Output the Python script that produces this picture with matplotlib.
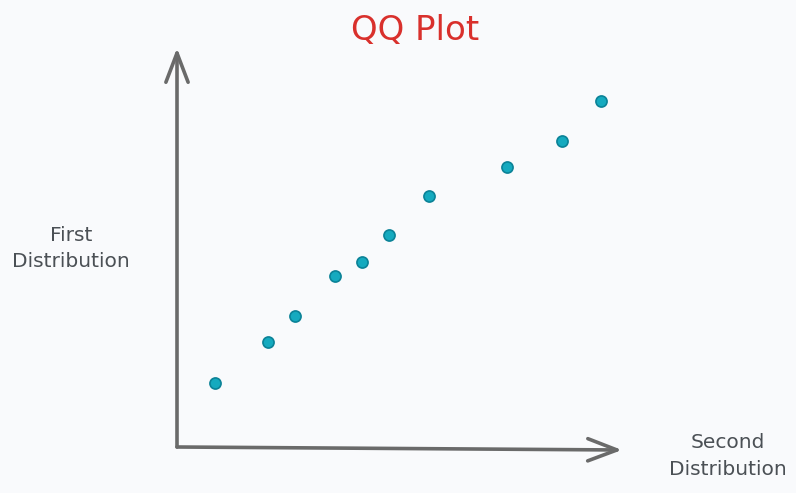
import matplotlib
matplotlib.use('Agg')
import matplotlib.pyplot as plt

# quantiles of the two distributions
second_q = [0.95, 2.28, 2.96, 3.96, 4.63, 5.30, 6.31, 8.25, 9.63, 10.60]
first_q = [1.61, 2.63, 3.27, 4.28, 4.63, 5.29, 6.28, 6.99, 7.64, 8.66]

title = 'QQ Plot'
y_label = ['First', 'Distribution']
x_label = ['Second', 'Distribution']

bg = '#f9fafc'
axis_col = '#6a6a6a'
text_col = '#4b5055'

fig = plt.figure(figsize=(7.96, 4.93), dpi=100, facecolor=bg)
ax = fig.add_axes([0, 0, 1, 1])
ax.set_facecolor(bg)
ax.set_xlim(-4.425, 15.475)
ax.set_ylim(-1.15, 11.175)
ax.axis('off')

arrow = dict(arrowstyle='->, head_length=21, head_width=8', mutation_scale=1,
             lw=2.6, color=axis_col, shrinkA=0, shrinkB=0,
             capstyle='round', joinstyle='round')
# y axis
ax.annotate('', xy=(0, 9.975), xytext=(0, 0), arrowprops=arrow)
# x axis
ax.annotate('', xy=(11.125, -0.075), xytext=(0, 0), arrowprops=arrow)

ax.scatter(second_q, first_q, s=64, color='#15aabf', edgecolor='#0b8297',
           linewidth=1.2, zorder=3)

fig.text(0.521, 0.919, title, color='#d9302c', fontsize=24.5,
         ha='center', va='baseline', family='DejaVu Sans')

fig.text(0.089, 0.512, y_label[0], color=text_col, fontsize=14.5,
         ha='center', va='baseline')
fig.text(0.089, 0.459, y_label[1], color=text_col, fontsize=14.5,
         ha='center', va='baseline')
fig.text(0.9146, 0.0906, x_label[0], color=text_col, fontsize=14.5,
         ha='center', va='baseline')
fig.text(0.9146, 0.0365, x_label[1], color=text_col, fontsize=14.5,
         ha='center', va='baseline')

plt.savefig('out.png', dpi=100, facecolor=bg)
